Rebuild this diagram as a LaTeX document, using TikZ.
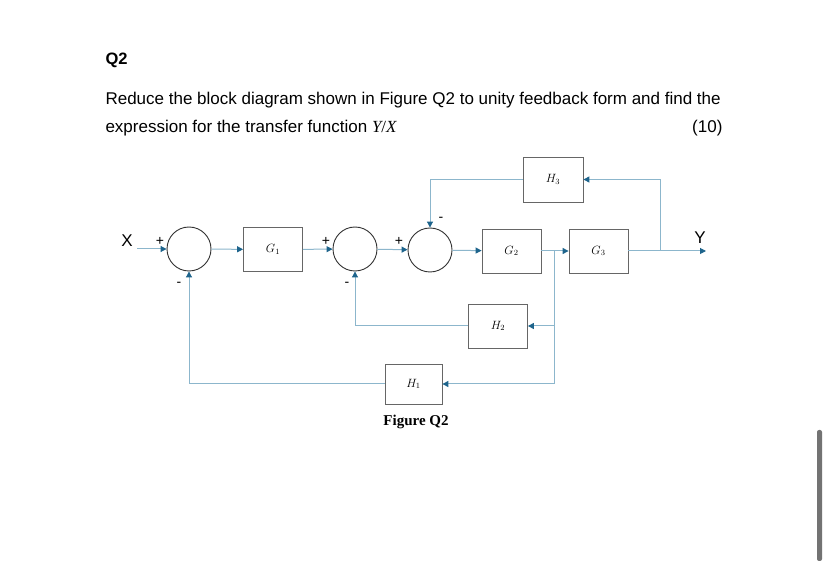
\documentclass[tikz,border=0pt]{standalone}
\usepackage{fontspec}
\setmainfont{Liberation Sans}
\newfontfamily\serf{Liberation Serif}
\usetikzlibrary{arrows.meta}
\definecolor{linec}{RGB}{140,182,204}
\definecolor{arrc}{RGB}{30,100,140}
\begin{document}
\begin{tikzpicture}[x=1pt,y=-1pt,
  sum/.style={circle,draw=black!80,line width=0.9pt,minimum size=44pt,inner sep=0pt},
  blk/.style={draw=black!60,line width=0.8pt,minimum width=59pt,minimum height=44pt,inner sep=0pt,font=\large},
  ln/.style={draw=linec,line width=1pt},
  ar/.style={ln,-{Triangle[length=6pt,width=6pt,color=arrc]}},
  sg/.style={font=\fontsize{14}{16}\selectfont},
  big/.style={font=\fontsize{17}{20}\selectfont}]
\useasboundingbox (0,0) rectangle (828,561);
\fill[white] (0,0) rectangle (828,561);
\fill[black!55,rounded corners=2pt] (817,430) rectangle (822,561);
\node[anchor=west,font=\fontsize{16.5}{19}\selectfont\bfseries] (q) at (102,60) {Q2};
\node[anchor=west,big] (t1) at (102,100) {Reduce the block diagram shown in Figure Q2 to unity feedback form and find the};
\node[anchor=west,big] (t2) at (102,128) {expression for the transfer function {\serf\itshape Y}{\serf/}{\serf\itshape X}};
\node[anchor=east,big] (t3) at (726,128) {(10)};
\node[sum] (s1) at (189,249) {};
\node[blk] (g1) at (273,249.5) {$G_1$};
\node[sum] (s2) at (355,249) {};
\node[sum] (s3) at (430,250) {};
\node[blk] (g2) at (511.5,251) {$G_2$};
\node[blk] (g3) at (598.5,251) {$G_3$};
\node[blk,minimum width=60pt,minimum height=45pt] (h3) at (553,179.5) {$H_3$};
\node[blk] (h2) at (498,326) {$H_2$};
\node[blk,minimum width=57pt,minimum height=40pt] (h1) at (413.5,384) {$H_1$};
\node[font=\fontsize{15}{18}\selectfont\serf\bfseries] (fig) at (416,422) {Figure Q2};
\node[big] (x) at (127,241) {X};
\node[big] (y) at (700,238) {Y};
\coordinate (xin) at (137,249);
\coordinate (yout) at (706,251);
\coordinate (b1) at (554,251);
\coordinate (b2) at (660,251);
\draw[ar] (xin) -- (s1);
\draw[ar] (s1) -- (g1);
\draw[ar] (g1) -- (s2);
\draw[ar] (s2) -- (s3);
\draw[ar] (s3) -- (g2);
\draw[ar] (g2) -- (g3);
\draw[ar] (g3) -- (yout);
\draw[ar] (b2) |- (h3.east);
\draw[ar] (h3.west) -| (s3.north);
\draw[ar] (b1) |- (h2.east);
\draw[ar] (h2.west) -| (s2.south);
\draw[ar] (b1) |- (h1.east);
\draw[ar] (h1.west) -| (s1.south);
\node[sg] at (160,241) {+};
\node[sg] at (179,284) {-};
\node[sg] at (326,241) {+};
\node[sg] at (347,284) {-};
\node[sg] at (399,241) {+};
\node[sg] at (441,219) {-};
\end{tikzpicture}
\end{document}
